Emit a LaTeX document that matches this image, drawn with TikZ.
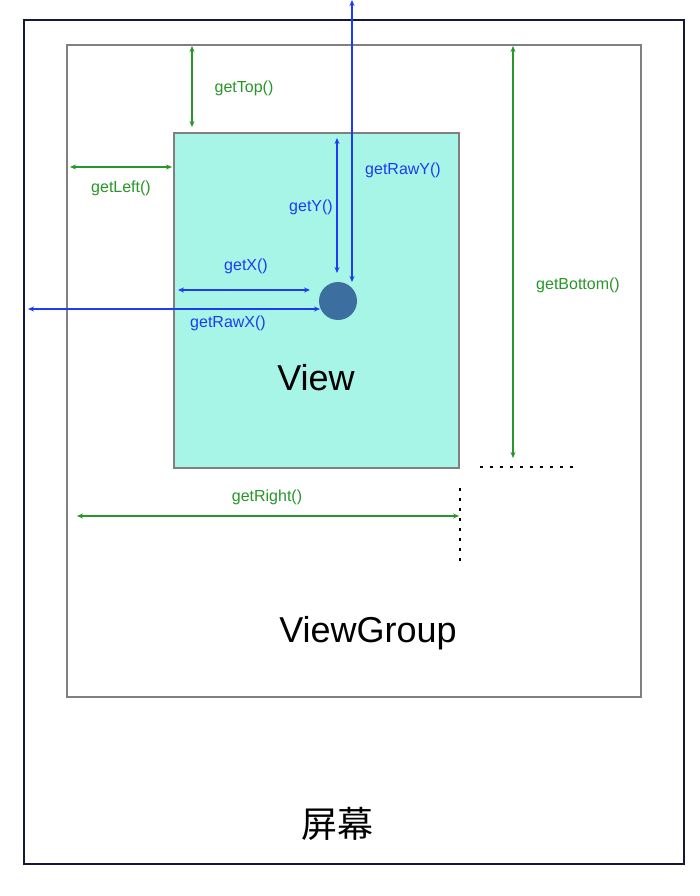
\documentclass[tikz,border=0pt]{standalone}
\usepackage{fontspec}
\setmainfont{Liberation Sans}
\newfontfamily\cjk{Noto Sans CJK SC}
\usetikzlibrary{arrows.meta}
\definecolor{gr}{RGB}{40,150,40}
\definecolor{bl}{RGB}{30,60,240}
\definecolor{aq}{RGB}{166,245,230}
\definecolor{dot}{RGB}{60,110,160}
\begin{document}
\begin{tikzpicture}[x=1pt,y=-1pt,
  garr/.style={gr,{Stealth[length=6pt,width=5pt]}-{Stealth[length=6pt,width=5pt]},line width=1.3pt},
  barr/.style={bl,{Stealth[length=6pt,width=5pt]}-{Stealth[length=6pt,width=5pt]},line width=1.3pt},
  glab/.style={gr,font=\fontsize{16}{18}\selectfont},
  blab/.style={bl,font=\fontsize{16}{18}\selectfont}]
\useasboundingbox (0,0) rectangle (700,896);
\fill[white] (0,0) rectangle (700,896);
\draw[color={rgb,255:red,20;green,25;blue,60},line width=2pt] (24,20) rectangle (684,864);
\draw[gray,line width=1.5pt] (67,45) rectangle (641,697);
\draw[gray,fill=aq,line width=1.5pt] (174,133) rectangle (459,468);
\node[circle,fill=dot,minimum size=38pt,inner sep=0] (c) at (338,301) {};
\node[font=\fontsize{36}{40}\selectfont] (v) at (316,378) {View};
\node[font=\fontsize{36}{40}\selectfont] (vg) at (368,633) {ViewGroup};
\node[font=\cjk\fontsize{36}{40}\selectfont] (sc) at (337,824) {屏幕};
% green
\coordinate (t1) at (192,46); \coordinate (t2) at (192,127);
\draw[garr] (t1) -- (t2); \node[glab] at (244,88) {getTop()};
\coordinate (l1) at (70,167); \coordinate (l2) at (172,167);
\draw[garr] (l1) -- (l2); \node[glab] at (121,188) {getLeft()};
\coordinate (b1) at (513,46); \coordinate (b2) at (513,458);
\draw[garr] (b1) -- (b2); \node[glab] at (578,285) {getBottom()};
\coordinate (r1) at (77,516); \coordinate (r2) at (459,516);
\draw[garr] (r1) -- (r2); \node[glab] at (267,497) {getRight()};
\draw[line width=2.5pt,dash pattern=on 2.5pt off 7.5pt] (480,467) -- (578,467);
\draw[line width=2.5pt,dash pattern=on 2.5pt off 7.5pt] (460,488) -- (460,565);
% blue
\coordinate (ry1) at (352,0); \coordinate (ry2) at (352,282);
\draw[barr] (ry1) -- (ry2); \node[blab] at (403,170) {getRawY()};
\coordinate (y1) at (337,138); \coordinate (y2) at (337,273);
\draw[barr] (y1) -- (y2); \node[blab] at (311,207) {getY()};
\coordinate (x1) at (178,290); \coordinate (x2) at (310,290);
\draw[barr] (x1) -- (x2); \node[blab] at (246,266) {getX()};
\coordinate (rx1) at (28,309); \coordinate (rx2) at (320,309);
\draw[barr] (rx1) -- (rx2); \node[blab] at (228,323) {getRawX()};
\end{tikzpicture}
\end{document}
